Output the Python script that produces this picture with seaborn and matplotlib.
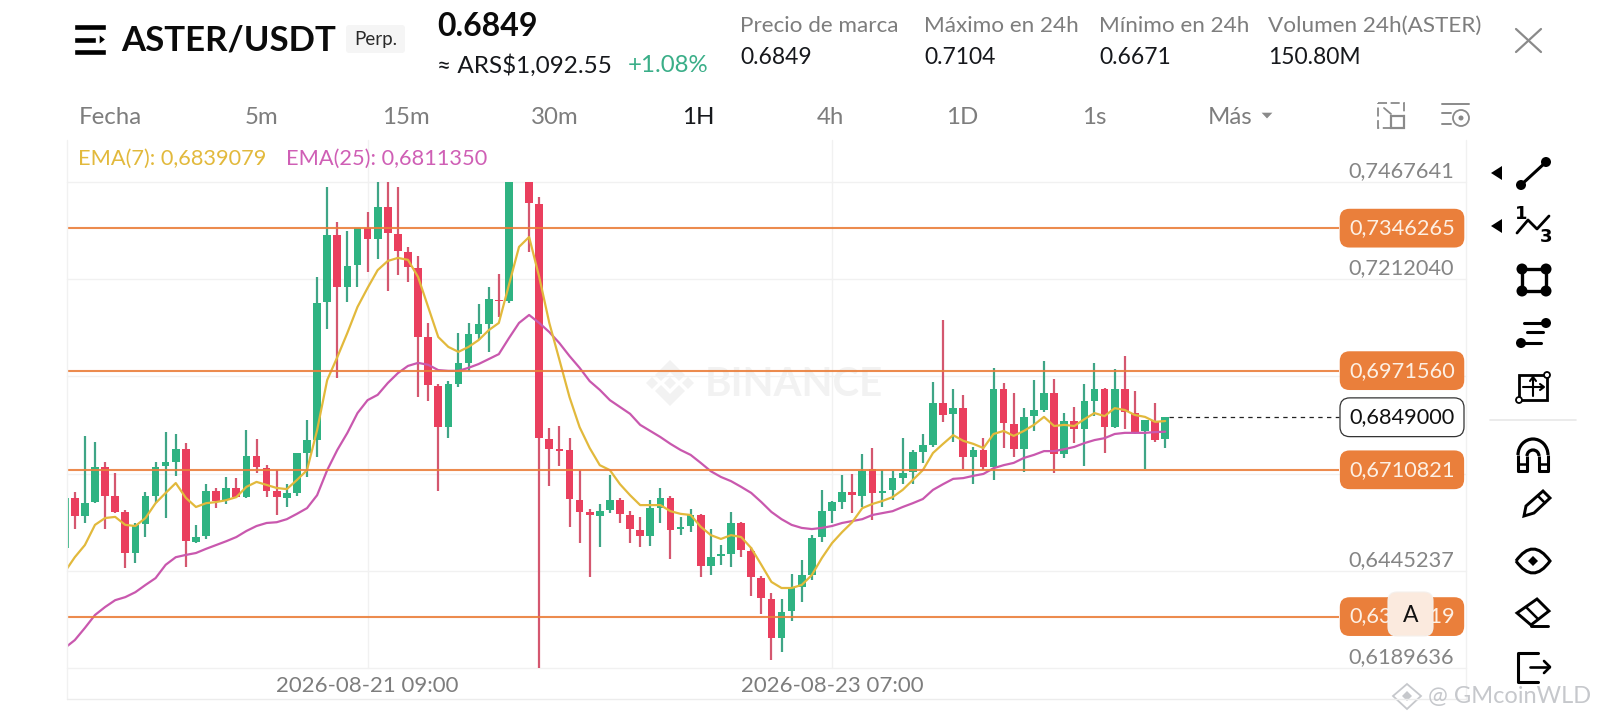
import matplotlib
matplotlib.use("Agg")
import matplotlib.pyplot as plt
from matplotlib.patches import FancyBboxPatch, Polygon, Circle, Rectangle, PathPatch, Arc
from matplotlib.path import Path
from matplotlib.transforms import ScaledTranslation
import seaborn as sns
import numpy as np

opens = [.6505,.6637,.6589,.6626,.6718,.6642,.6600,.6492,.6568,.6642,.6721,.6732,.6765,.6521,.6537,.6655,.6631,.6663,.6639,.6747,
         .6715,.6655,.6637,.6650,.6755,.6789,.7152,.7328,.7192,.7249,.7347,.7318,.7402,.7331,.7283,.7241,.7060,.6931,.6823,.6936,
         .6992,.7068,.7094,.7157,.7155,.7496,.7577,.7410,.6792,.6765,.6763,.6631,.6600,.6589,.6605,.6631,.6592,.6553,.6537,.6610,
         .6637,.6555,.6563,.6592,.6458,.6484,.6489,.6571,.6497,.6426,.6371,.6268,.6340,.6403,.6434,.6534,.6602,.6626,.6653,.6642,
         .6713,.6650,.6658,.6689,.6705,.6758,.6776,.6887,.6858,.6873,.6745,.6763,.6718,.6923,.6831,.6765,.6852,.6868,.6913,.6752,
         .6839,.6818,.6892,.6923,.6823,.6923,.6860,.6813,.6839,.6792]
closes = [.6637,.6589,.6623,.6718,.6642,.6600,.6492,.6566,.6642,.6718,.6732,.6765,.6523,.6534,.6655,.6629,.6663,.6639,.6747,.6718,
          .6655,.6639,.6650,.6755,.6789,.7149,.7328,.7192,.7247,.7347,.7318,.7402,.7333,.7286,.7244,.7060,.6934,.6823,.6936,.6992,
          .7068,.7094,.7160,.7155,.7496,.7596,.7412,.6794,.6765,.6760,.6634,.6600,.6592,.6602,.6631,.6595,.6555,.6537,.6610,.6637,
          .6553,.6561,.6592,.6458,.6482,.6489,.6571,.6500,.6429,.6374,.6268,.6337,.6400,.6434,.6531,.6602,.6626,.6653,.6644,.6707,
          .6650,.6655,.6689,.6702,.6758,.6776,.6887,.6855,.6873,.6745,.6763,.6718,.6923,.6834,.6765,.6850,.6868,.6913,.6752,.6839,
          .6818,.6892,.6923,.6823,.6923,.6863,.6810,.6842,.6789,.6849]
highs = [.6637,.6653,.6799,.6784,.6732,.6702,.6605,.6571,.6653,.6732,.6810,.6805,.6781,.6566,.6673,.6663,.6692,.6689,.6815,.6792,
         .6723,.6710,.6673,.6755,.6842,.7218,.7455,.7362,.7339,.7347,.7389,.7480,.7480,.7455,.7297,.7273,.7097,.6936,.6944,.7071,
         .7097,.7147,.7192,.7226,.7560,.7600,.7600,.7428,.6821,.6826,.6794,.6710,.6608,.6621,.6697,.6637,.6602,.6587,.6631,.6663,
         .6642,.6587,.6608,.6594,.6555,.6513,.6600,.6573,.6508,.6431,.6387,.6371,.6437,.6474,.6539,.6658,.6629,.6697,.6700,.6752,
         .6768,.6710,.6707,.6794,.6763,.6805,.6942,.7105,.6923,.6908,.6771,.6794,.6979,.6939,.6913,.6873,.6947,.6997,.6950,.6860,
         .6876,.6936,.6992,.6926,.6976,.7010,.6918,.6842,.6887,.6849]
lows = [.6505,.6555,.6571,.6624,.6555,.6598,.6453,.6466,.6534,.6623,.6584,.6695,.6455,.6518,.6529,.6610,.6621,.6637,.6637,.6702,
        .6639,.6592,.6613,.6642,.6692,.6745,.7081,.6952,.7152,.7192,.7231,.7265,.7181,.7223,.7205,.6902,.6892,.6655,.6794,.6929,
        .6971,.7052,.7021,.7113,.7150,.7480,.7283,.6150,.6668,.6721,.6561,.6518,.6429,.6508,.6597,.6571,.6518,.6508,.6510,.6571,
        .6476,.6539,.6547,.6429,.6434,.6461,.6455,.6482,.6379,.6331,.6211,.6232,.6313,.6363,.6421,.6521,.6571,.6608,.6597,.6613,
        .6579,.6613,.6631,.6673,.6673,.6729,.6771,.6837,.6784,.6713,.6673,.6710,.6684,.6768,.6745,.6705,.6813,.6863,.6702,.6742,
        .6781,.6721,.6852,.6755,.6821,.6818,.6805,.6713,.6784,.6768]
ema7 = [.6442,.6481,.6513,.6566,.6584,.6587,.6566,.6563,.6584,.6623,.6650,.6676,.6637,.6613,.6623,.6626,.6631,.6639,.6666,.6679,
        .6671,.6663,.6660,.6684,.6710,.6815,.6947,.7007,.7071,.7139,.7189,.7236,.7260,.7268,.7263,.7218,.7139,.7060,.7034,.7021,
        .7034,.7052,.7078,.7097,.7197,.7297,.7323,.7218,.7097,.7000,.6902,.6823,.6768,.6723,.6710,.6673,.6644,.6618,.6618,.6618,
        .6602,.6595,.6592,.6561,.6539,.6529,.6539,.6534,.6505,.6461,.6416,.6400,.6400,.6408,.6434,.6479,.6518,.6547,.6573,.6610,
        .6621,.6629,.6639,.6658,.6684,.6710,.6755,.6779,.6802,.6787,.6779,.6768,.6805,.6813,.6800,.6813,.6829,.6850,.6826,.6829,
        .6826,.6844,.6860,.6852,.6873,.6868,.6855,.6850,.6837,.6839]
ema25 = [.6242,.6263,.6295,.6329,.6350,.6368,.6376,.6389,.6408,.6426,.6461,.6481,.6487,.6492,.6503,.6513,.6523,.6534,.6550,.6563,
         .6571,.6573,.6581,.6595,.6610,.6644,.6710,.6763,.6808,.6860,.6894,.6908,.6939,.6965,.6984,.6992,.6987,.6973,.6971,.6971,
         .6979,.6989,.7002,.7015,.7057,.7097,.7118,.7097,.7073,.7044,.7010,.6979,.6944,.6921,.6894,.6876,.6858,.6829,.6813,.6797,
         .6779,.6763,.6750,.6729,.6707,.6692,.6681,.6666,.6650,.6626,.6600,.6581,.6566,.6558,.6555,.6558,.6563,.6571,.6576,.6581,
         .6592,.6597,.6602,.6613,.6623,.6634,.6658,.6673,.6687,.6689,.6695,.6700,.6715,.6723,.6729,.6742,.6750,.6760,.6760,.6765,
         .6771,.6781,.6789,.6794,.6805,.6808,.6808,.6808,.6810,.6811]
grid_prices = [0.7467641, 0.7212040, 0.6956439, 0.6700838, 0.6445237, 0.6189636]
grid_labels = ["0,7467641", "0,7212040", "", "", "0,6445237", "0,6189636"]
level_prices = [0.7346265, 0.6971560, 0.6710821, 0.6324819]
level_labels = ["0,7346265", "0,6971560", "0,6710821", "0,6324819"]
last_price = 0.6849
last_label = "0,6849000"
time_ticks = [30, 76]
time_labels = ["2026-08-21 09:00", "2026-08-23 07:00"]
tabs = ["Fecha", "5m", "15m", "30m", "1H", "4h", "1D", "1s", "Más"]
stats = [("Precio de marca", "0.6849"), ("Máximo en 24h", "0.7104"),
         ("Mínimo en 24h", "0.6671"), ("Volumen 24h(ASTER)", "150.80M")]

GREEN, RED, GREEN_W, RED_W = "#2fb382", "#ea3f5e", "#3fa586", "#d4576f"
ORANGE, YEL, PUR = "#ea7f3b", "#e2b93c", "#c958ae"
GRAY, DARK, GRID = "#7d7d7d", "#16181c", "#f1f1f1"

sns.set_theme(style="white")
plt.rcParams["font.family"] = ["Lato", "DejaVu Sans"]
W, H = 1600, 720
fig = plt.figure(figsize=(16, 7.2), dpi=100, facecolor="white")

# background layer: exchange watermark under the candles
bg = fig.add_axes([0, 0, 1, 1], zorder=0)
bg.set_xlim(0, W); bg.set_ylim(H, 0); bg.axis("off")
WM = "#f2f2f2"
bg.text(794, 384, "BINANCE", fontsize=29, fontweight="bold", color=WM, ha="center", va="center")
for dx, dy in ((0, 0), (-18, 0), (18, 0)):
    r = 6
    bg.add_patch(Polygon([[670 + dx, 383 + dy - r], [670 + dx + r, 383 + dy], [670 + dx, 383 + dy + r], [670 + dx - r, 383 + dy]],
                         fc=WM, ec="none"))
bg.add_patch(Polygon([[670, 360], [685, 375], [679, 381], [670, 372], [661, 381], [655, 375]], fc=WM, ec="none"))
bg.add_patch(Polygon([[670, 406], [685, 391], [679, 385], [670, 394], [661, 385], [655, 391]], fc=WM, ec="none"))

L, R, T, B = 66.5, 1466, 182, 668
ax = fig.add_axes([L / W, (H - B) / H, (R - L) / W, (B - T) / H], zorder=1)
ax.patch.set_alpha(0)
x0, step = 64.7, 10.096
ax.set_xlim((L - x0) / step, (R - x0) / step)
ax.set_ylim(grid_prices[-1], grid_prices[0])
for s in ax.spines.values():
    s.set_visible(False)

x = np.arange(len(opens))
o, c, hi, lo = map(np.array, (opens, closes, highs, lows))
up = c >= o
ax.vlines(x[up], lo[up], hi[up], color=GREEN_W, lw=1.6, zorder=3)
ax.vlines(x[~up], lo[~up], hi[~up], color=RED_W, lw=1.6, zorder=3)
ax.bar(x[up], (c - o)[up], bottom=o[up], width=0.76, color=GREEN, zorder=4, lw=0)
ax.bar(x[~up], (c - o)[~up], bottom=o[~up], width=0.76, color=RED, zorder=4, lw=0)
sns.lineplot(x=x, y=ema25, ax=ax, color=PUR, lw=1.6, zorder=5, legend=False)
sns.lineplot(x=x, y=ema7, ax=ax, color=YEL, lw=1.6, zorder=6, legend=False)
ax.set_xlabel(""); ax.set_ylabel("")

# grid and axes
ax.yaxis.tick_right()
ax.set_yticks(grid_prices)
ax.set_yticklabels(grid_labels)
ax.tick_params(axis="y", length=0, pad=-12 * .72, labelsize=15.7, labelcolor="#858585")
offset = ScaledTranslation(0, 13 / 100, fig.dpi_scale_trans)
for t in ax.get_yticklabels():
    t.set_ha("right")
    t.set_transform(t.get_transform() + offset)
ax.set_xticks(time_ticks)
ax.set_xticklabels(time_labels)
ax.tick_params(axis="x", length=0, pad=5.5, labelsize=16, labelcolor=GRAY)
ax.grid(False)
for p in grid_prices:
    ax.axhline(p, color=GRID, lw=1, zorder=1, clip_on=False)
for tk in time_ticks:
    ax.plot([tk, tk], [0, (B - 140) / (B - T)], transform=ax.get_xaxis_transform(),
            color=GRID, lw=1, zorder=1, clip_on=False)

# drawn levels
xr = (1339 - x0) / step
ax.hlines(level_prices, ax.get_xlim()[0], xr, color=ORANGE, lw=1.5, alpha=.9, zorder=7)
ax.hlines(last_price, len(x) - 1 + 0.4, xr, color="#222222", lw=.9, linestyles=(0, (3.5, 3.5)), zorder=7)
lab_x = (1402 - L) / (R - L)
for p, s in zip(level_prices, level_labels):
    ax.text(lab_x, p, s, transform=ax.get_yaxis_transform(), ha="center", va="center", fontsize=15.7,
            color="#fdf0e4", zorder=9, clip_on=False,
            bbox=dict(boxstyle="round,pad=0.43,rounding_size=0.45", fc=ORANGE, ec="none"))
ax.text(lab_x, last_price, last_label, transform=ax.get_yaxis_transform(), ha="center", va="center", fontsize=15.7,
        color="#111111", zorder=9, clip_on=False,
        bbox=dict(boxstyle="round,pad=0.43,rounding_size=0.45", fc="white", ec="#333333", lw=.9))

# interface overlay in pixel units
ui = fig.add_axes([0, 0, 1, 1], zorder=5)
ui.set_xlim(0, W); ui.set_ylim(H, 0); ui.axis("off"); ui.patch.set_alpha(0)
def line(xs, ys, col="black", lw=2.2, **k):
    ui.plot(xs, ys, color=col, lw=lw, solid_capstyle=k.pop("cap", "round"), **k)
def dot(cx, cy, r=5, col="black"):
    ui.add_patch(Circle((cx, cy), r, fc=col, ec="none"))
def txt(px, py, s, size, col=DARK, ha="left", weight="normal", **k):
    ui.text(px, py, s, fontsize=size, color=col, ha=ha, va="center", fontweight=weight, **k)

# pane frame
line([L, L], [140, 699], GRID, 1)
line([R, R], [140, 699], GRID, 1)
line([L, R], [699, 699], "#ececec", 1)

# header
ui.add_patch(Rectangle((74, 24), 32, 6, fc="black"))
ui.add_patch(Rectangle((74, 36.5), 22, 6, fc="black"))
ui.add_patch(Polygon([[99, 34], [106, 39.5], [99, 45]], fc="black"))
ui.add_patch(Rectangle((74, 49), 32, 6, fc="black"))
txt(121, 41, "ASTER/USDT", 25, "#0b0b0b", weight="bold")
ui.add_patch(FancyBboxPatch((349, 28), 53, 22, boxstyle="round,pad=3,rounding_size=3", fc="#f5f5f5", ec="none"))
txt(375.5, 40, "Perp.", 13.5, "#2a2a2a", ha="center")
txt(437, 26.5, "0.6849", 23, "#0b0b0b", weight="bold")
txt(437, 66, "≈ ARS$1,092.55", 17.5, DARK)
txt(628, 66, "+1.08%", 17.3, "#3aae88")
for px, (a, b) in zip((740, 924, 1099, 1268), stats):
    txt(px, 26, a, 16.2, GRAY)
    txt(px, 58, b, 16.5, DARK)
line([1516, 1541], [29, 52], "#8a8a8a", 1.6)
line([1541, 1516], [29, 52], "#8a8a8a", 1.6)

# tabs
for cx, s in zip((110, 262, 406, 555, 698, 830, 962, 1094, 1230), tabs):
    txt(cx, 117, s, 17.3, DARK if s == "1H" else GRAY, ha="center")
ui.add_patch(Polygon([[1260, 112], [1274, 112], [1267, 119.5]], fc="#8a8a8a"))
ic = "#8a8a8a"
ui.add_patch(Rectangle((1378, 103), 26, 25, fc="none", ec=ic, lw=1.3, ls=(0, (5, 2))))
ui.add_patch(Rectangle((1391, 116), 13, 12, fc="white", ec=ic, lw=1.6))
line([1384, 1391], [108, 114], ic, 1.3)
line([1442, 1469], [104, 104], ic, 1.4)
line([1442, 1451], [113, 113], ic, 1.4)
line([1442, 1451], [124, 124], ic, 1.4)
ui.add_patch(Circle((1461, 118), 8, fc="none", ec=ic, lw=1.3))
dot(1461, 118, 2.5, ic)

# legend
txt(78, 159, "EMA(7): 0,6839079", 15.7, YEL)
txt(286, 159, "EMA(25): 0,6811350", 15.7, "#cf5fb5")

# "A" key over the last label
ui.add_patch(FancyBboxPatch((1392, 596), 37, 36, boxstyle="round,pad=4,rounding_size=9", fc="#fbeade", ec="#f5f0ec", lw=.8, zorder=10))
txt(1410.5, 615, "A", 16.5, "#111111", ha="center", zorder=11)

# toolbar
for yy in (173, 226):
    ui.add_patch(Polygon([[1502, yy - 7], [1502, yy + 7], [1491, yy]], fc="black", ec="none"))
line([1521, 1546], [185, 162]); dot(1521, 185); dot(1546, 162)
ui.text(1521, 214, "1", fontsize=13, color="black", ha="center", va="center", fontweight="bold", family="DejaVu Sans")
ui.text(1546, 237, "3", fontsize=13, color="black", ha="center", va="center", fontweight="bold", family="DejaVu Sans")
line([1517, 1528, 1537, 1549], [233, 220, 229, 216], lw=2)
ui.add_patch(Rectangle((1522, 269), 24, 22, fc="none", ec="black", lw=2.4))
for a, b in ((1522, 269), (1546, 269), (1522, 291), (1546, 291)):
    dot(a, b, 5.5)
line([1524, 1546], [323, 323]); dot(1546, 323)
line([1527, 1543], [332, 332])
line([1521, 1541], [343, 343]); dot(1521, 343)
ui.add_patch(Rectangle((1519, 375), 28, 25, fc="none", ec="black", lw=2))
ui.add_patch(Circle((1547, 375), 3, fc="white", ec="black", lw=1.3))
ui.add_patch(Circle((1519, 400), 3, fc="white", ec="black", lw=1.3))
line([1523, 1543], [387, 387], lw=1.5); line([1533, 1533], [378, 396], lw=1.5)
line([1530, 1533, 1536], [381, 377, 381], lw=1.5); line([1540, 1544, 1540], [384, 387, 390], lw=1.5)
line([1490, 1576], [420, 420], "#e8e8e8", 1.2)
# magnet
ui.add_patch(Arc((1533, 455), 30, 32, theta1=180, theta2=360, ec="black", lw=2.3))
ui.add_patch(Arc((1533, 456), 12, 12, theta1=180, theta2=360, ec="black", lw=2.3))
line([1518, 1518, 1527, 1527], [455, 471, 471, 456], cap="butt")
line([1548, 1548, 1539, 1539], [455, 471, 471, 456], cap="butt")
line([1518, 1527], [464, 464], lw=1.8); line([1539, 1548], [464, 464], lw=1.8)
# pencil
ui.add_patch(Polygon([[1524, 516], [1526, 506], [1543, 491], [1550, 498], [1534, 513]], fc="none", ec="black", lw=2.1))
line([1538, 1545], [496, 503], lw=1.8)
# eye
ui.add_patch(PathPatch(Path([(1516, 561), (1533, 537), (1550, 561), (1533, 585), (1516, 561)],
                            [Path.MOVETO, Path.CURVE3, Path.CURVE3, Path.CURVE3, Path.CURVE3]), fc="none", ec="black", lw=2.2))
ui.add_patch(Polygon([[1533, 555], [1539, 561], [1533, 567], [1527, 561]], fc="black"))
# eraser
ui.add_patch(Polygon([[1517, 613], [1537, 599], [1549, 611], [1531, 625]], fc="none", ec="black", lw=2.1))
line([1527, 1538], [608, 619], lw=1.8); line([1531, 1548], [626, 626], lw=2.1)
# exit
line([1538, 1518, 1518, 1538], [653, 653, 682, 682], lw=2.2)
line([1530, 1549], [667, 667], lw=1.9); line([1544, 1550, 1544], [661, 667, 673], lw=1.9)

# corner watermark
wm = "#c6c8cc"
ui.add_patch(Polygon([[1407, 684], [1421, 696], [1407, 709], [1393, 696]], fc="none", ec=wm, lw=1.3))
ui.add_patch(Polygon([[1407, 691], [1412, 696], [1407, 701], [1402, 696]], fc=wm, ec="none"))
txt(1428, 697, "@ GMcoinWLD", 17, wm)

fig.savefig("out.png", dpi=100, facecolor="white")
